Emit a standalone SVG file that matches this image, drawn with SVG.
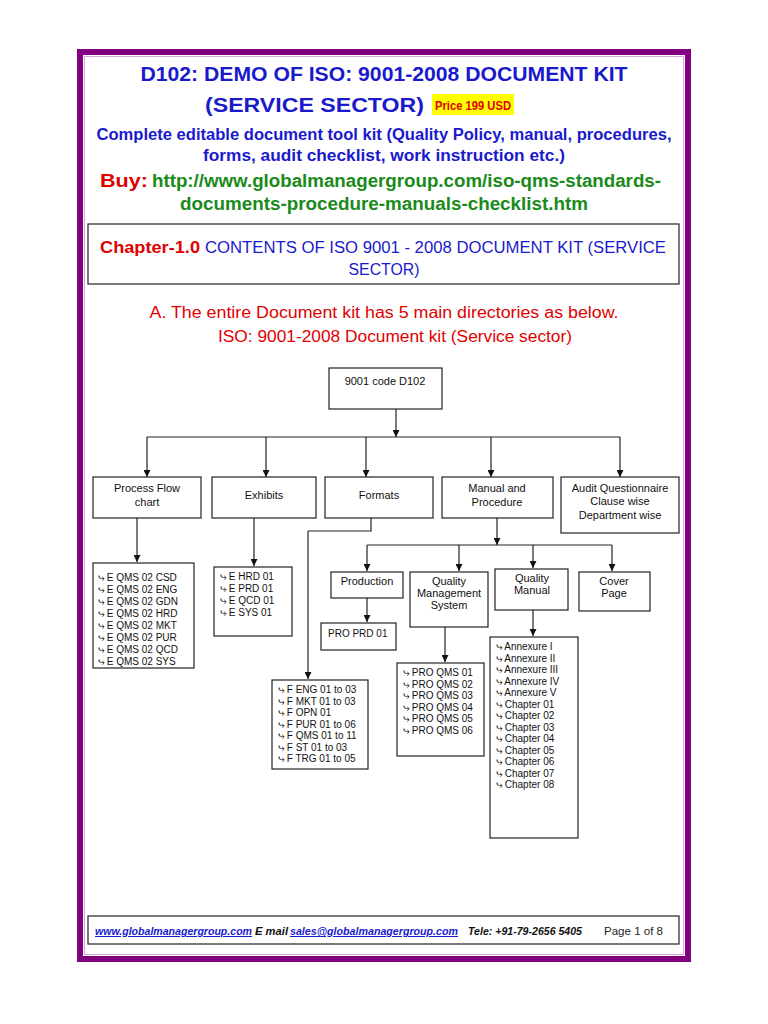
<svg xmlns="http://www.w3.org/2000/svg" width="768" height="1024" viewBox="0 0 768 1024">
<defs>
<marker id="ah" viewBox="0 0 10 10" refX="10" refY="5" markerWidth="7" markerHeight="7" markerUnits="userSpaceOnUse" orient="auto"><path d="M0,0 L10,5 L0,10 z" fill="#111"/></marker>
<style>
.t{font-family:"Liberation Sans",Arial,sans-serif}
.box{fill:#fff;stroke:#222;stroke-width:1.2}
.n{font-family:"Liberation Sans",Arial,sans-serif;font-size:11px;fill:#111;text-anchor:middle}
.s{font-family:"Liberation Sans",Arial,sans-serif;font-size:10px;fill:#111}
.g{font-family:"DejaVu Sans",sans-serif;font-size:11px}
.c{fill:none;stroke:#222;stroke-width:1.2}
.a{fill:none;stroke:#222;stroke-width:1.2;marker-end:url(#ah)}
</style>
</defs>
<rect x="0" y="0" width="768" height="1024" fill="#fff"/>
<rect x="80" y="52" width="608" height="907" fill="none" stroke="#800080" stroke-width="6"/>
<rect x="84.5" y="56.5" width="599" height="898" fill="none" stroke="#d9a6e0" stroke-width="1"/>

<g id="header">
<text class="t" x="384" y="81" font-size="21" font-weight="bold" fill="#1a1acc" text-anchor="middle" textLength="487" lengthAdjust="spacingAndGlyphs">D102: DEMO OF ISO: 9001-2008 DOCUMENT KIT</text>
<text class="t" x="205" y="112" font-size="21" font-weight="bold" fill="#1a1acc" textLength="219" lengthAdjust="spacingAndGlyphs">(SERVICE SECTOR)</text>
<rect x="432" y="94" width="82" height="21" fill="#ffff00"/>
<text class="t" x="435" y="110" font-size="13" font-weight="bold" fill="#e00000" textLength="76" lengthAdjust="spacingAndGlyphs">Price 199 USD</text>
<text class="t" x="384" y="140" font-size="16" font-weight="bold" fill="#1a1acc" text-anchor="middle" textLength="575" lengthAdjust="spacingAndGlyphs">Complete editable document tool kit (Quality Policy, manual, procedures,</text>
<text class="t" x="384" y="161" font-size="16" font-weight="bold" fill="#1a1acc" text-anchor="middle" textLength="362" lengthAdjust="spacingAndGlyphs">forms, audit checklist, work instruction etc.)</text>
<text class="t" x="100" y="187" font-size="19" font-weight="bold" fill="#e00000" textLength="48" lengthAdjust="spacingAndGlyphs">Buy:</text>
<text class="t" x="152" y="187" font-size="18" font-weight="bold" fill="#1a8a1a" textLength="509" lengthAdjust="spacingAndGlyphs">http://www.globalmanagergroup.com/iso-qms-standards-</text>
<text class="t" x="384" y="210" font-size="18" font-weight="bold" fill="#1a8a1a" text-anchor="middle" textLength="408" lengthAdjust="spacingAndGlyphs">documents-procedure-manuals-checklist.htm</text>
</g>

<g id="chapter">
<rect x="88" y="224" width="591" height="60" fill="#fff" stroke="#333" stroke-width="1.3"/>
<text class="t" x="100" y="253" font-size="17" font-weight="bold" fill="#e00000" textLength="100" lengthAdjust="spacingAndGlyphs">Chapter-1.0</text>
<text class="t" x="205" y="253" font-size="16" fill="#1a1acc" textLength="461" lengthAdjust="spacingAndGlyphs">CONTENTS OF ISO 9001 - 2008 DOCUMENT KIT (SERVICE</text>
<text class="t" x="384" y="275" font-size="16" fill="#1a1acc" text-anchor="middle" textLength="71" lengthAdjust="spacingAndGlyphs">SECTOR)</text>
</g>

<g id="intro">
<text class="t" x="384" y="318" font-size="16" fill="#e00000" text-anchor="middle" textLength="469" lengthAdjust="spacingAndGlyphs">A. The entire Document kit has 5 main directories as below.</text>
<text class="t" x="395" y="342" font-size="16" fill="#e00000" text-anchor="middle" textLength="354" lengthAdjust="spacingAndGlyphs">ISO: 9001-2008 Document kit (Service sector)</text>
</g>

<g id="connectors">
<path class="a" d="M396,409 V437"/>
<path class="c" d="M147,437 H620"/>
<path class="a" d="M147,437 V477"/>
<path class="a" d="M266,437 V477"/>
<path class="a" d="M366,437 V477"/>
<path class="a" d="M491,437 V477"/>
<path class="a" d="M620,437 V477"/>
<path class="a" d="M137,518 V562"/>
<path class="a" d="M254,518 V566"/>
<path class="c" d="M371,518 V531 H308"/>
<path class="a" d="M308,531 V679"/>
<path class="a" d="M497,518 V545"/>
<path class="c" d="M367,545 H612"/>
<path class="a" d="M367,545 V571"/>
<path class="a" d="M459,545 V571"/>
<path class="a" d="M533,545 V568"/>
<path class="a" d="M612,545 V571"/>
<path class="a" d="M367,598 V622"/>
<path class="a" d="M445,627 V662"/>
<path class="a" d="M533,610 V636"/>
</g>

<g id="root">
<rect class="box" x="329" y="368" width="113" height="41"/>
<text class="n" x="385" y="385" font-size="12px">9001 code D102</text>
</g>

<g id="process-flow">
<rect class="box" x="93" y="477" width="108" height="41"/>
<text class="n" x="147" y="492">Process Flow</text>
<text class="n" x="147" y="506">chart</text>
</g>
<g id="exhibits">
<rect class="box" x="212" y="477" width="104" height="41"/>
<text class="n" x="264" y="499">Exhibits</text>
</g>
<g id="formats">
<rect class="box" x="325" y="477" width="108" height="41"/>
<text class="n" x="379" y="499">Formats</text>
</g>
<g id="manual-procedure">
<rect class="box" x="442" y="477" width="111" height="41"/>
<text class="n" x="497" y="492">Manual and</text>
<text class="n" x="497" y="506">Procedure</text>
</g>
<g id="audit">
<rect class="box" x="561" y="477" width="118" height="56"/>
<text class="n" x="620" y="492">Audit Questionnaire</text>
<text class="n" x="620" y="505">Clause wise</text>
<text class="n" x="620" y="519">Department wise</text>
</g>

<g id="process-list">
<rect class="box" x="93" y="563" width="101" height="105"/>
<text class="s" x="98" y="581"><tspan class="g">⤷</tspan> E QMS 02 CSD</text>
<text class="s" x="98" y="593"><tspan class="g">⤷</tspan> E QMS 02 ENG</text>
<text class="s" x="98" y="605"><tspan class="g">⤷</tspan> E QMS 02 GDN</text>
<text class="s" x="98" y="617"><tspan class="g">⤷</tspan> E QMS 02 HRD</text>
<text class="s" x="98" y="629"><tspan class="g">⤷</tspan> E QMS 02 MKT</text>
<text class="s" x="98" y="641"><tspan class="g">⤷</tspan> E QMS 02 PUR</text>
<text class="s" x="98" y="653"><tspan class="g">⤷</tspan> E QMS 02 QCD</text>
<text class="s" x="98" y="665"><tspan class="g">⤷</tspan> E QMS 02 SYS</text>
</g>
<g id="exhibits-list">
<rect class="box" x="214" y="567" width="78" height="69"/>
<text class="s" x="220" y="580"><tspan class="g">⤷</tspan> E HRD 01</text>
<text class="s" x="220" y="592"><tspan class="g">⤷</tspan> E PRD 01</text>
<text class="s" x="220" y="604"><tspan class="g">⤷</tspan> E QCD 01</text>
<text class="s" x="220" y="616"><tspan class="g">⤷</tspan> E SYS 01</text>
</g>
<g id="formats-list">
<rect class="box" x="272" y="680" width="96" height="89"/>
<text class="s" x="278" y="693"><tspan class="g">⤷</tspan> F ENG 01 to 03</text>
<text class="s" x="278" y="705"><tspan class="g">⤷</tspan> F MKT 01 to 03</text>
<text class="s" x="278" y="716"><tspan class="g">⤷</tspan> F OPN 01</text>
<text class="s" x="278" y="728"><tspan class="g">⤷</tspan> F PUR 01 to 06</text>
<text class="s" x="278" y="739"><tspan class="g">⤷</tspan> F QMS 01 to 11</text>
<text class="s" x="278" y="751"><tspan class="g">⤷</tspan> F ST 01 to 03</text>
<text class="s" x="278" y="762"><tspan class="g">⤷</tspan> F TRG 01 to 05</text>
</g>

<g id="production">
<rect class="box" x="331" y="572" width="72" height="26"/>
<text class="n" x="367" y="585" font-size="10px">Production</text>
</g>
<g id="pro-prd">
<rect class="box" x="321" y="623" width="75" height="27"/>
<text class="s" x="328" y="637">PRO PRD 01</text>
</g>
<g id="qms">
<rect class="box" x="410" y="572" width="78" height="55"/>
<text class="n" x="449" y="585" font-size="10px">Quality</text>
<text class="n" x="449" y="597" font-size="10px">Management</text>
<text class="n" x="449" y="609" font-size="10px">System</text>
</g>
<g id="qms-list">
<rect class="box" x="397" y="663" width="87" height="93"/>
<text class="s" x="403" y="676"><tspan class="g">⤷</tspan> PRO QMS 01</text>
<text class="s" x="403" y="688"><tspan class="g">⤷</tspan> PRO QMS 02</text>
<text class="s" x="403" y="699"><tspan class="g">⤷</tspan> PRO QMS 03</text>
<text class="s" x="403" y="711"><tspan class="g">⤷</tspan> PRO QMS 04</text>
<text class="s" x="403" y="722"><tspan class="g">⤷</tspan> PRO QMS 05</text>
<text class="s" x="403" y="734"><tspan class="g">⤷</tspan> PRO QMS 06</text>
</g>
<g id="quality-manual">
<rect class="box" x="495" y="569" width="73" height="41"/>
<text class="n" x="532" y="582" font-size="10px">Quality</text>
<text class="n" x="532" y="594" font-size="10px">Manual</text>
</g>
<g id="manual-list">
<rect class="box" x="490" y="637" width="88" height="201"/>
<text class="s" x="496" y="650"><tspan class="g">⤷</tspan> Annexure I</text>
<text class="s" x="496" y="662"><tspan class="g">⤷</tspan> Annexure II</text>
<text class="s" x="496" y="673"><tspan class="g">⤷</tspan> Annexure III</text>
<text class="s" x="496" y="685"><tspan class="g">⤷</tspan> Annexure IV</text>
<text class="s" x="496" y="696"><tspan class="g">⤷</tspan> Annexure V</text>
<text class="s" x="496" y="708"><tspan class="g">⤷</tspan> Chapter 01</text>
<text class="s" x="496" y="719"><tspan class="g">⤷</tspan> Chapter 02</text>
<text class="s" x="496" y="731"><tspan class="g">⤷</tspan> Chapter 03</text>
<text class="s" x="496" y="742"><tspan class="g">⤷</tspan> Chapter 04</text>
<text class="s" x="496" y="754"><tspan class="g">⤷</tspan> Chapter 05</text>
<text class="s" x="496" y="765"><tspan class="g">⤷</tspan> Chapter 06</text>
<text class="s" x="496" y="777"><tspan class="g">⤷</tspan> Chapter 07</text>
<text class="s" x="496" y="788"><tspan class="g">⤷</tspan> Chapter 08</text>
</g>
<g id="cover-page">
<rect class="box" x="579" y="572" width="71" height="39"/>
<text class="n" x="614" y="585" font-size="10px">Cover</text>
<text class="n" x="614" y="597" font-size="10px">Page</text>
</g>

<g id="footer">
<rect x="88" y="916" width="591" height="28" fill="#fff" stroke="#333" stroke-width="1.3"/>
<text class="t" x="95" y="935" font-size="10" font-weight="bold" font-style="italic" fill="#1a1acc" text-decoration="underline" textLength="157" lengthAdjust="spacingAndGlyphs">www.globalmanagergroup.com</text>
<text class="t" x="255" y="935" font-size="10" font-weight="bold" font-style="italic" fill="#111" textLength="33" lengthAdjust="spacingAndGlyphs">E mail</text>
<text class="t" x="290" y="935" font-size="10" font-weight="bold" font-style="italic" fill="#1a1acc" text-decoration="underline" textLength="168" lengthAdjust="spacingAndGlyphs">sales@globalmanagergroup.com</text>
<text class="t" x="468" y="935" font-size="10" font-weight="bold" font-style="italic" fill="#111" textLength="114" lengthAdjust="spacingAndGlyphs">Tele: +91-79-2656 5405</text>
<text class="t" x="604" y="935" font-size="11.5" fill="#222" textLength="59" lengthAdjust="spacingAndGlyphs">Page 1 of 8</text>
</g>
</svg>
